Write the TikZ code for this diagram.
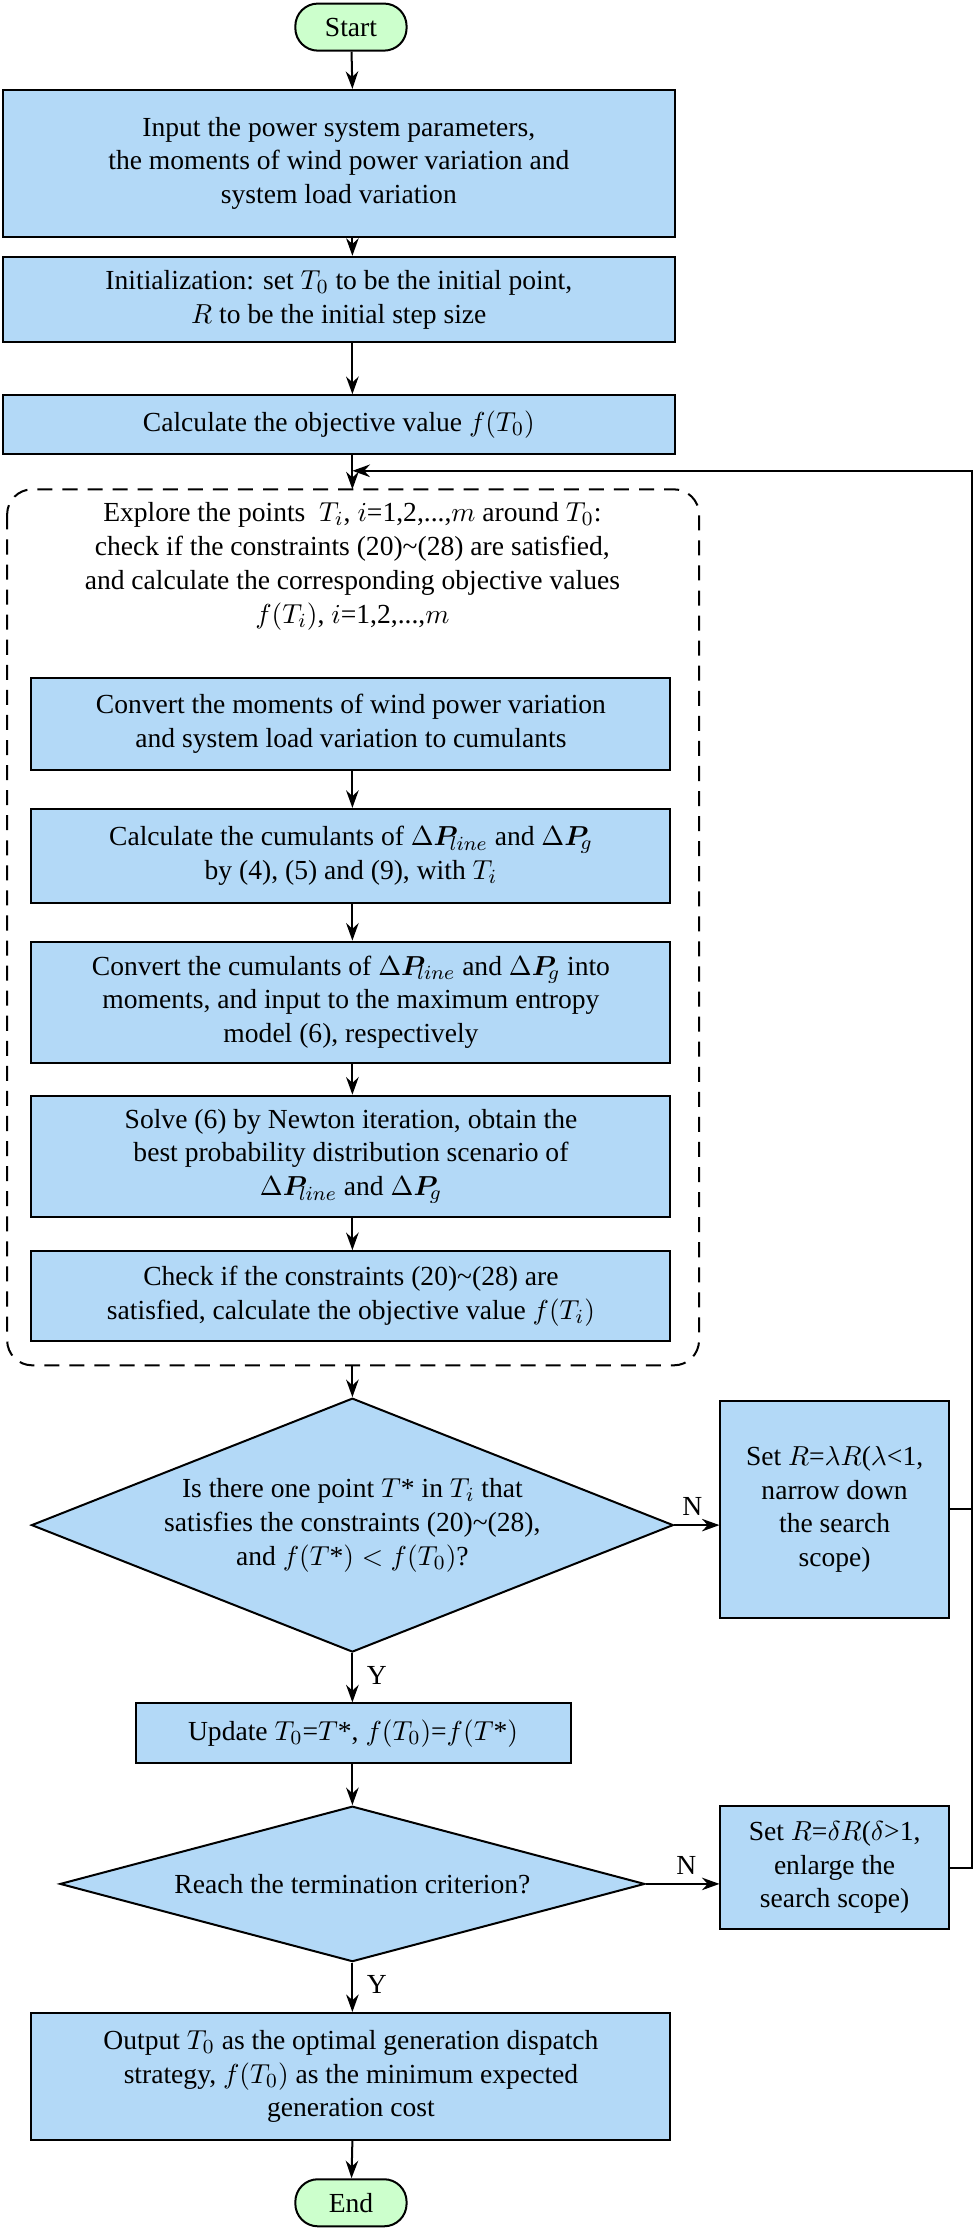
\documentclass[tikz,border=0pt]{standalone}
\usepackage{amsmath,bm}
\usepackage{fontspec}
\setmainfont{Liberation Serif}
\usetikzlibrary{shapes.geometric,arrows.meta}
\definecolor{boxblue}{HTML}{B3D9F7}
\definecolor{termgreen}{HTML}{CCFFCC}
\begin{document}
\begin{tikzpicture}[x=0.02cm,y=-0.02cm,
  font=\fontsize{11}{13.5}\selectfont,
  >={Stealth[length=7pt,width=5pt]},
  box/.style={draw,thick,fill=boxblue,align=center,inner sep=0pt},
  term/.style={draw,thick,fill=termgreen,rounded corners=9pt,minimum width=1.56cm,minimum height=0.66cm},
  dec/.style={draw,thick,fill=boxblue,diamond,align=center,inner sep=0pt},
  line/.style={thick,->}]
\useasboundingbox (0,0) rectangle (683,1568);

\node[term] (st) at (246,19) {Start};
\node[box,minimum width=9.42cm,minimum height=2.06cm] (b1) at (237.5,114.5)
  {Input the power system parameters,\\the moments of wind power variation and\\system load variation};
\node[box,minimum width=9.42cm,minimum height=1.2cm] (b2) at (237.5,210)
  {Initialization: set $T_0$ to be the initial point,\\$R$ to be the initial step size};
\node[box,minimum width=9.42cm,minimum height=0.82cm] (b3) at (237.5,297.5)
  {Calculate the objective value $f(T_0)$};

\draw[thick,dashed,dash pattern=on 6pt off 4pt,rounded corners=10pt] (5,343) rectangle (490,957);
\coordinate (dtop) at (247,343);
\coordinate (dbot) at (247,957);
\node[align=center] (ex) at (247,397)
  {Explore the points~ $T_i$, $i$=1,2,...,$m$ around $T_0$:\\check if the constraints (20)\textasciitilde(28) are satisfied,\\and calculate the corresponding objective values\\$f(T_i)$, $i$=1,2,...,$m$};

\node[box,minimum width=8.96cm,minimum height=1.3cm] (b4) at (246,507.5)
  {Convert the moments of wind power variation\\and system load variation to cumulants};
\node[box,minimum width=8.96cm,minimum height=1.32cm] (b5) at (246,600)
  {Calculate the cumulants of $\Delta\bm{P}_{\!line}$ and $\Delta\bm{P}_{\!g}$\\by (4), (5) and (9), with $T_i$};
\node[box,minimum width=8.96cm,minimum height=1.7cm] (b6) at (246,702.5)
  {Convert the cumulants of $\Delta\bm{P}_{\!line}$ and $\Delta\bm{P}_{\!g}$ into\\moments, and input to the maximum entropy\\model (6), respectively};
\node[box,minimum width=8.96cm,minimum height=1.7cm] (b7) at (246,810.5)
  {Solve (6) by Newton iteration, obtain the\\best probability distribution scenario of\\$\Delta\bm{P}_{\!line}$ and $\Delta\bm{P}_{\!g}$};
\node[box,minimum width=8.96cm,minimum height=1.26cm] (b8) at (246,908.5)
  {Check if the constraints (20)\textasciitilde(28) are\\satisfied, calculate the objective value $f(T_i)$};

\node[dec,aspect=2.53,minimum width=9cm,minimum height=3.56cm] (d1) at (247,1069)
  {Is there one point $T$* in $T_i$ that\\satisfies the constraints (20)\textasciitilde(28),\\and $f(T$*$)<f(T_0)$?};
\node[box,minimum width=3.2cm,minimum height=3.04cm] (r1) at (585,1058)
  {Set $R$=$\lambda R$($\lambda$<1,\\narrow down\\the search\\scope)};
\node[box,minimum width=6.1cm,minimum height=0.84cm] (b9) at (247.5,1215)
  {Update $T_0$=$T$*, $f(T_0)$=$f(T$*$)$};
\node[dec,aspect=3.76,minimum width=8.2cm,minimum height=2.18cm] (d2) at (247,1320.5)
  {Reach the termination criterion?};
\node[box,minimum width=3.2cm,minimum height=1.72cm] (r2) at (585,1309)
  {Set $R$=$\delta R$($\delta$>1,\\enlarge the\\search scope)};
\node[box,minimum width=8.96cm,minimum height=1.78cm] (b10) at (246,1455.5)
  {Output $T_0$ as the optimal generation dispatch\\strategy, $f(T_0)$ as the minimum expected\\generation cost};
\node[term] (en) at (246,1544) {End};

\coordinate (cx) at (247,0);
\draw[line] (st) -- (b1.north -| cx);
\draw[line] (b1.south -| cx) -- (b2.north -| cx);
\draw[line] (b2.south -| cx) -- (b3.north -| cx);
\draw[line] (b3.south -| cx) -- (dtop);
\draw[line] (b4.south -| cx) -- (b5.north -| cx);
\draw[line] (b5.south -| cx) -- (b6.north -| cx);
\draw[line] (b6.south -| cx) -- (b7.north -| cx);
\draw[line] (b7.south -| cx) -- (b8.north -| cx);
\draw[line] (dbot) -- (d1.north);
\draw[line] (d1.south) -- node[right,pos=0.45,xshift=2pt] {Y} (b9.north -| cx);
\draw[line] (d1.east) -- node[above,pos=0.4] {N} (d1.east -| r1.west);
\draw[line] (b9.south -| cx) -- (d2.north);
\draw[line] (d2.east) -- node[above,pos=0.55] {N} (d2.east -| r2.west);
\draw[line] (d2.south) -- node[right,pos=0.45,xshift=2pt] {Y} (b10.north -| cx);
\draw[line] (b10.south -| cx) -- (en);
\coordinate (lp) at (681,330);
\draw[thick] (r1.east) -- (r1.east -| lp);
\draw[line] (r2.east) -- (r2.east -| lp) -- (lp) -- (cx |- lp);
\end{tikzpicture}
\end{document}
